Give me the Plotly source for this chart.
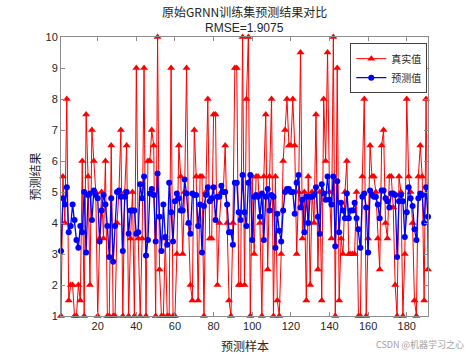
import plotly.graph_objects as go

true_vals = [
    1, 5.5, 4, 8, 1.5, 2, 2, 1, 1, 2,
    1.5, 6, 1, 7.5, 5.5, 2, 7, 6, 5, 1,
    3.5, 5, 3.5, 6, 1, 1, 6.5, 1, 1, 4,
    5, 7, 1, 5, 6.5, 1, 3.5, 5, 1, 9,
    3.5, 1, 3.5, 9, 1, 6, 6, 7, 6.5, 1,
    10, 2.5, 1, 1, 3.5, 1, 1, 9, 1, 1,
    3, 6.5, 5.5, 3, 5, 9, 4, 2, 1.5, 7,
    5.5, 1.5, 5.5, 5.5, 1, 5, 8, 3.5, 3.5, 7.5,
    7.5, 2, 4, 5, 5, 6.5, 4, 1.5, 1, 4,
    9, 9, 2, 2, 10, 2, 8, 10, 1, 5.5,
    3, 5.5, 5.5, 4, 1, 5.5, 7.5, 2.5, 5.5, 8,
    1, 5.5, 1.5, 1, 3, 6, 7, 8, 6.5, 6.5,
    8, 6.5, 3, 5, 9.5, 3.5, 5, 1.5, 5.5, 2,
    5, 4, 7.5, 2.5, 5, 1.5, 8, 6, 9.5, 5,
    3.5, 10, 1, 9, 1.5, 3.5, 3, 5, 6, 3,
    3, 3, 3, 5, 1, 1, 5.5, 8, 1, 3.5,
    6.5, 5.5, 5.5, 5, 3.5, 2.5, 6.5, 7, 4, 3.5,
    5.5, 5.5, 4.5, 2, 1, 5.5, 5, 1, 3, 8,
    5.5, 5, 4, 1.5, 1, 5.5, 6.5, 5.5, 1.5, 8,
    2.5,
]

pred_vals = [
    3.1, 4.8, 4.6, 5.15, 3.7, 3.9, 4.6, 4.1, 3.45, 3.2,
    3.9, 3.7, 5.0, 3.05, 4.9, 4.95, 4.1, 5.05, 4.9, 4.8,
    3.4, 4.4, 4.9, 4.6, 3.9, 2.9, 4.8, 2.75, 3.9, 5.0,
    5.05, 4.85, 3.1, 4.85, 5.0, 3.65, 4.4, 4.4, 4.4, 3.65,
    3.7, 5.25, 4.8, 5.5, 2.95, 3.45, 4.95, 5.1, 4.9, 3.4,
    5.6, 4.2, 3.1, 4.6, 3.55, 3.3, 5.3, 4.35, 3.4, 4.7,
    4.95, 4.8, 4.4, 4.4, 5.4, 4.95, 4.0, 3.65, 4.95, 4.9,
    4.9, 3.9, 4.6, 3.05, 4.55, 4.9, 5.15, 4.7, 4.8, 5.15,
    4.1, 4.85, 4.85, 5.2, 5.0, 5.0, 4.6, 3.7, 3.7, 3.3,
    5.3, 5.3, 4.35, 4.1, 5.55, 4.35, 3.9, 5.3, 5.55, 3.45,
    4.85, 4.9, 4.85, 4.2, 4.95, 3.45, 4.85, 5.1, 4.4, 4.9,
    4.85, 3.2, 4.3, 3.75, 3.4, 4.4, 5.0, 5.1, 5.1, 5.0,
    5.0, 4.3, 5.3, 5.55, 4.5, 4.75, 3.7, 4.85, 4.0, 4.85,
    4.85, 4.9, 5.15, 4.2, 3.65, 5.25, 4.95, 4.75, 5.5, 4.75,
    4.6, 5.5, 3.25, 5.35, 3.7, 4.65, 4.4, 4.15, 4.95, 4.15,
    4.4, 4.4, 4.65, 4.15, 3.8, 3.2, 4.85, 4.95, 4.5, 3.05,
    5.05, 4.9, 4.85, 4.85, 4.6, 4.15, 5.05, 5.05, 4.8, 4.7,
    4.5, 4.95, 4.95, 4.9, 2.9, 4.7, 4.9, 4.7, 3.55, 4.35,
    5.15, 4.8, 4.55, 3.8, 3.45, 4.8, 4.95, 4.9, 4.0, 5.15,
    4.2,
]

samples = list(range(1, len(true_vals) + 1))
x_ticks = [20, 40, 60, 80, 100, 120, 140, 160, 180]
y_ticks = [1, 2, 3, 4, 5, 6, 7, 8, 9, 10]

title_line1 = "原始GRNN训练集预测结果对比"
title_line2 = "RMSE=1.9075"
series_names = ["真实值", "预测值"]
x_title = "预测样本"
y_title = "预测结果"
watermark = "CSDN @机器学习之心"

font_fam = "Liberation Sans, Arial, Noto Sans CJK SC, sans-serif"
cjk_fam = "Noto Sans CJK SC, sans-serif"
axis_col = "#8c8c8c"
text_col = "#262626"

fig = go.Figure()
fig.add_trace(go.Scatter(
    x=samples, y=true_vals, mode="lines+markers", name=series_names[0],
    line=dict(color="#ff0000", width=1),
    marker=dict(symbol="triangle-up", size=7, color="#ff0000"),
    cliponaxis=False,
))
fig.add_trace(go.Scatter(
    x=samples, y=pred_vals, mode="lines+markers", name=series_names[1],
    line=dict(color="#0000ff", width=1.3),
    marker=dict(symbol="circle", size=6, color="#0000ff"),
    cliponaxis=False,
))

fig.update_layout(
    width=474, height=355,
    margin=dict(l=61, r=46, t=37, b=39),
    paper_bgcolor="white", plot_bgcolor="white",
    font=dict(family=font_fam, size=11, color=text_col),
    showlegend=True,
    legend=dict(
        x=0.998, y=0.978, xanchor="right", yanchor="top",
        bgcolor="white", bordercolor="#404040", borderwidth=1,
        font=dict(family=cjk_fam, size=10, color=text_col),
        tracegroupgap=0, itemwidth=30,
    ),
)
fig.update_xaxes(
    range=[1, len(true_vals)], tickvals=x_ticks,
    showgrid=False, zeroline=False,
    showline=True, linecolor=axis_col, linewidth=1, mirror="allticks",
    ticks="inside", ticklen=4, tickcolor=axis_col,
    tickfont=dict(size=11, color=text_col),
)
fig.update_yaxes(
    range=[1, 10], tickvals=y_ticks,
    showgrid=False, zeroline=False,
    showline=True, linecolor=axis_col, linewidth=1, mirror="allticks",
    ticks="inside", ticklen=4, tickcolor=axis_col,
    tickfont=dict(size=11, color=text_col),
)

fig.add_annotation(text=title_line1, xref="paper", yref="paper",
                   x=0.5, y=1, yshift=26, yanchor="middle", showarrow=False,
                   font=dict(family=cjk_fam, size=12, color=text_col))
fig.add_annotation(text=title_line2, xref="paper", yref="paper",
                   x=0.5, y=1, yshift=9, yanchor="middle", showarrow=False,
                   font=dict(family=font_fam, size=12, color=text_col))
fig.add_annotation(text=x_title, xref="paper", yref="paper",
                   x=0.5, y=0, yshift=-29, yanchor="middle", showarrow=False,
                   font=dict(family=cjk_fam, size=12, color=text_col))
fig.add_annotation(text=y_title, xref="paper", yref="paper",
                   x=0, y=0.5, xshift=-27, xanchor="center", yanchor="middle",
                   textangle=-90, showarrow=False,
                   font=dict(family=cjk_fam, size=12, color=text_col))
fig.add_annotation(text=watermark, xref="paper", yref="paper",
                   x=1, y=0, xshift=38, yshift=-28, xanchor="right",
                   yanchor="middle", showarrow=False,
                   font=dict(family=cjk_fam, size=9, color="#a0a0a0"))

fig.write_html(
    "out.html",
    config={"displayModeBar": False},
    post_script="document.body.style.margin='0';document.body.style.overflow='hidden';",
)
